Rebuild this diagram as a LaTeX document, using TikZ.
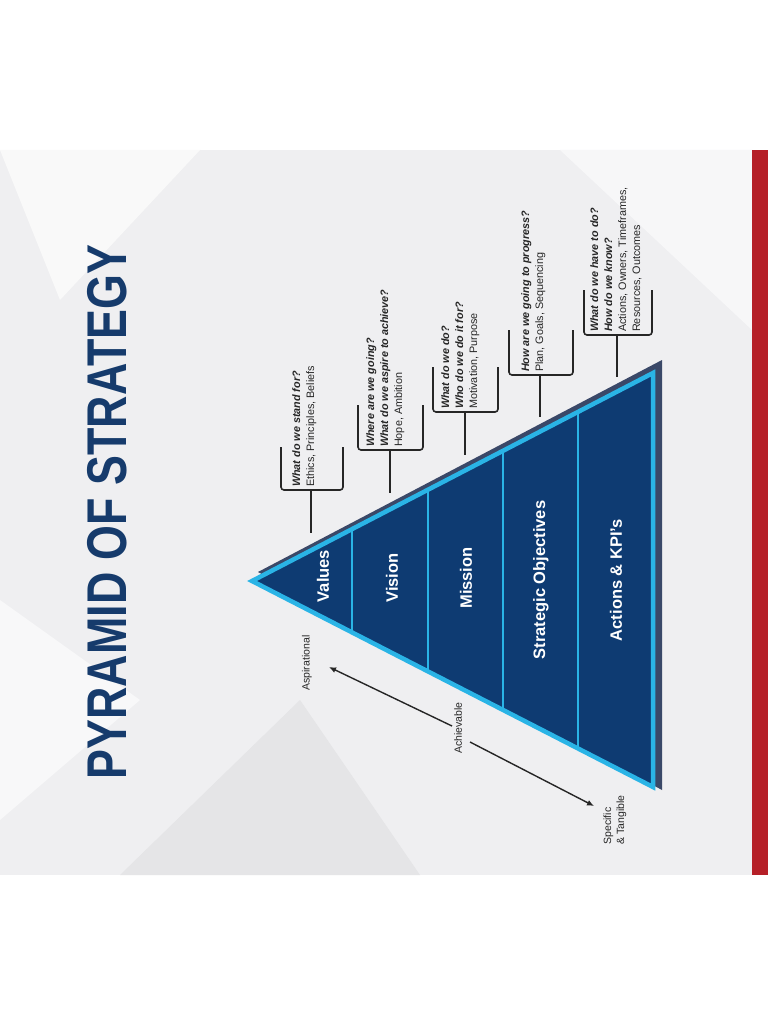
\documentclass[tikz,border=0pt]{standalone}
\usepackage{fontspec}
\setmainfont{Liberation Sans}
\usetikzlibrary{arrows.meta}
\begin{document}
\begin{tikzpicture}[x=1pt,y=-1pt,
  bracket/.style={draw=black!85,line width=1.6pt,rounded corners=3pt},
  qtext/.style={rotate=90,anchor=north west,align=left,font=\fontsize{10.8}{14}\selectfont,inner sep=0pt,text=black!85},
  sect/.style={rotate=90,text=white,font=\fontsize{16.5}{18}\selectfont\bfseries},
  side/.style={rotate=90,font=\fontsize{10.5}{13}\selectfont,text=black!85,align=left},
  divider/.style={draw=cyanb,line width=2.5pt},
  arr/.style={draw=black!85,line width=1.4pt,-{Latex[length=7pt,width=6pt]}}]
\definecolor{navy}{HTML}{0E3B72}
\definecolor{cyanb}{HTML}{2AB4E6}
\definecolor{shadow}{HTML}{3A4868}
\definecolor{titleblue}{HTML}{163B6C}
\definecolor{bg}{HTML}{EFEFF1}
\definecolor{redstrip}{HTML}{B51F27}
\useasboundingbox (0,0) rectangle (768,1024);
\fill[white] (0,0) rectangle (768,1024);
\fill[bg] (0,150) rectangle (752,875);
\fill[white!60!bg] (0,150) -- (200,150) -- (60,300) -- cycle;
\fill[white!50!bg] (560,150) -- (752,150) -- (752,330) -- cycle;
\fill[black!4!bg] (120,875) -- (300,700) -- (420,875) -- cycle;
\fill[white!55!bg] (0,600) -- (140,700) -- (0,820) -- cycle;
\fill[redstrip] (752,150) rectangle (768,875);
% title
\node (title) [rotate=90,text=titleblue,font=\fontsize{56}{60}\selectfont\bfseries] at (107,512) {\scalebox{0.8}[1]{PYRAMID OF STRATEGY}};
% pyramid
\fill[shadow] (258,572) -- (662,360) -- (662,790) -- cycle;
\filldraw[fill=navy,draw=cyanb,line width=4.5pt,line join=miter] (252,581) -- (653,373) -- (653,787) -- cycle;
\draw[divider] (352,529.1) -- (352,632.4);
\draw[divider] (428,489.7) -- (428,671.4);
\draw[divider] (503,450.8) -- (503,710.0);
\draw[divider] (578,411.9) -- (578,748.5);
\node (values) [sect] at (323,576) {Values};
\node (vision) [sect] at (392,578) {Vision};
\node (mission) [sect] at (466,578) {Mission};
\node (strat) [sect] at (541,580) {Strategic Objectives};
\node (act) [sect] at (616,580) {Actions \& KPI's};
% brackets
\draw[bracket] (281,447) -- (281,490) -- (343,490) -- (343,447);
\draw[bracket] (311,490) -- (311,533);
\node (q1) [qtext] at (292,487) {\textbf{\textit{What do we stand for?}}\\Ethics, Principles, Beliefs};
\draw[bracket] (358,405) -- (358,450) -- (423,450) -- (423,405);
\draw[bracket] (390,450) -- (390,493);
\node (q2) [qtext] at (366,447) {\textbf{\textit{Where are we going?}}\\\textbf{\textit{What do we aspire to achieve?}}\\Hope, Ambition};
\draw[bracket] (433,367) -- (433,412) -- (498,412) -- (498,367);
\draw[bracket] (465,412) -- (465,455);
\node (q3) [qtext] at (441,409) {\textbf{\textit{What do we do?}}\\\textbf{\textit{Who do we do it for?}}\\Motivation, Purpose};
\draw[bracket] (509,330) -- (509,375) -- (573,375) -- (573,330);
\draw[bracket] (540,375) -- (540,417);
\node (q4) [qtext] at (521,372) {\textbf{\textit{How are we going to progress?}}\\Plan, Goals, Sequencing};
\draw[bracket] (584,290) -- (584,335) -- (652,335) -- (652,290);
\draw[bracket] (617,335) -- (617,377);
\node (q5) [qtext] at (590,332) {\textbf{\textit{What do we have to do?}}\\\textbf{\textit{How do we know?}}\\Actions, Owners, Timeframes,\\Resources, Outcomes};
% side scale
\node (asp) [side] at (307,663) {Aspirational};
\node (ach) [side] at (458,728) {Achievable};
\node (spec) [side,anchor=north west] at (600,848) {Specific\\\& Tangible};
\coordinate (aend) at (329,667);
\coordinate (send) at (594,806);
\draw[arr] (452,726) -- (aend);
\draw[arr] (470,742) -- (send);
\end{tikzpicture}
\end{document}
